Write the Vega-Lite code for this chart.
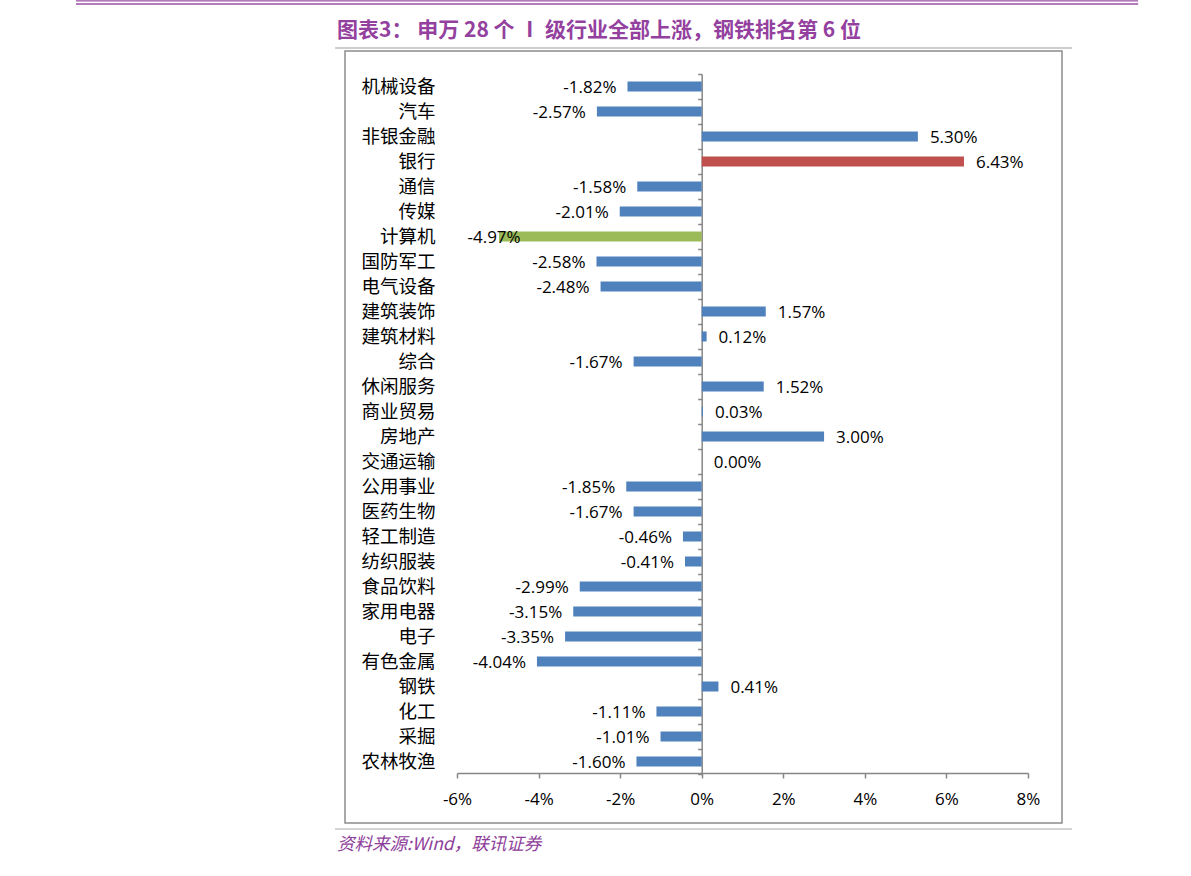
{
  "$schema": "https://vega.github.io/schema/vega-lite/v6.json",
  "autosize": "none",
  "width": 717,
  "height": 772,
  "padding": {"left": 345, "top": 51, "right": 129, "bottom": 53},
  "background": "white",
  "config": {
    "view": {"stroke": "#8C8C8C", "strokeWidth": 1.5},
    "axis": {"grid": false}
  },
  "datasets": {
    "industries": [
      {"industry": "机械设备", "value": -1.82},
      {"industry": "汽车", "value": -2.57},
      {"industry": "非银金融", "value": 5.30},
      {"industry": "银行", "value": 6.43},
      {"industry": "通信", "value": -1.58},
      {"industry": "传媒", "value": -2.01},
      {"industry": "计算机", "value": -4.97},
      {"industry": "国防军工", "value": -2.58},
      {"industry": "电气设备", "value": -2.48},
      {"industry": "建筑装饰", "value": 1.57},
      {"industry": "建筑材料", "value": 0.12},
      {"industry": "综合", "value": -1.67},
      {"industry": "休闲服务", "value": 1.52},
      {"industry": "商业贸易", "value": 0.03},
      {"industry": "房地产", "value": 3.00},
      {"industry": "交通运输", "value": 0.00},
      {"industry": "公用事业", "value": -1.85},
      {"industry": "医药生物", "value": -1.67},
      {"industry": "轻工制造", "value": -0.46},
      {"industry": "纺织服装", "value": -0.41},
      {"industry": "食品饮料", "value": -2.99},
      {"industry": "家用电器", "value": -3.15},
      {"industry": "电子", "value": -3.35},
      {"industry": "有色金属", "value": -4.04},
      {"industry": "钢铁", "value": 0.41},
      {"industry": "化工", "value": -1.11},
      {"industry": "采掘", "value": -1.01},
      {"industry": "农林牧渔", "value": -1.60}
    ]
  },
  "resolve": {"scale": {"y": "independent"}, "axis": {"y": "independent"}},
  "layer": [
    {
      "data": {"name": "industries"},
      "transform": [
        {"calculate": "(datum.value < 0 ? '-' : '') + format(abs(datum.value), '.2f') + '%'", "as": "label"},
        {"calculate": "max(datum.value, -4.17)", "as": "labelAt"}
      ],
      "encoding": {
        "y": {
          "field": "industry",
          "type": "nominal",
          "sort": null,
          "scale": {"range": [23, 723], "paddingInner": 0, "paddingOuter": 0},
          "axis": {
            "orient": "left",
            "offset": -92,
            "title": null,
            "domain": false,
            "ticks": false,
            "tickSize": 0,
            "labelPadding": 2,
            "labelFont": "Noto Sans CJK SC",
            "labelFontSize": 18.5,
            "labelColor": "#000000"
          }
        }
      },
      "layer": [
        {
          "mark": {"type": "bar", "height": {"band": 0.4}},
          "encoding": {
            "x": {
              "field": "value",
              "type": "quantitative",
              "scale": {"domain": [-6, 8], "range": [112, 683], "nice": false, "zero": false},
              "axis": {
                "orient": "bottom",
                "offset": -50,
                "title": null,
                "values": [-6, -4, -2, 0, 2, 4, 6, 8],
                "labelExpr": "datum.value + '%'",
                "labelFlush": false,
                "labelOverlap": false,
                "domainColor": "#868686",
                "domainWidth": 1.5,
                "tickColor": "#868686",
                "tickWidth": 1.5,
                "tickSize": 5,
                "labelPadding": 13,
                "labelFont": "Open Sans",
                "labelFontSize": 17,
                "labelColor": "#000000"
              }
            },
            "x2": {"datum": 0},
            "color": {
              "condition": [
                {"test": "datum.industry === '银行'", "value": "#C0504D"},
                {"test": "datum.industry === '计算机'", "value": "#9BBB59"}
              ],
              "value": "#4F81BD"
            }
          }
        },
        {
          "transform": [{"filter": "datum.value >= 0"}],
          "mark": {"type": "text", "align": "left", "baseline": "middle", "dx": 12, "dy": 1, "font": "Open Sans", "fontSize": 17, "color": "#000000"},
          "encoding": {
            "x": {"field": "labelAt", "type": "quantitative", "scale": {"domain": [-6, 8], "range": [112, 683], "nice": false, "zero": false}},
            "text": {"field": "label"}
          }
        },
        {
          "transform": [{"filter": "datum.value < 0"}],
          "mark": {"type": "text", "align": "right", "baseline": "middle", "dx": -11, "dy": 1, "font": "Open Sans", "fontSize": 17, "color": "#000000"},
          "encoding": {
            "x": {"field": "labelAt", "type": "quantitative", "scale": {"domain": [-6, 8], "range": [112, 683], "nice": false, "zero": false}},
            "text": {"field": "label"}
          }
        }
      ]
    },
    {
      "data": {"name": "industries"},
      "mark": {"type": "point", "opacity": 0},
      "encoding": {
        "x": {"datum": 0, "scale": {"domain": [-6, 8], "range": [112, 683], "nice": false, "zero": false}},
        "y": {
          "field": "industry",
          "type": "nominal",
          "sort": null,
          "scale": {"range": [23, 723], "paddingInner": 0, "paddingOuter": 0},
          "axis": {
            "orient": "left",
            "offset": -356.7,
            "title": null,
            "labels": false,
            "domainColor": "#868686",
            "domainWidth": 1.5,
            "tickColor": "#868686",
            "tickWidth": 1.5,
            "tickSize": 4,
            "tickBand": "extent"
          }
        }
      }
    },
    {
      "data": {"values": [{}]},
      "encoding": {
        "y": {"datum": 1.0648, "type": "quantitative", "scale": {"domain": [0, 1], "nice": false, "zero": false}, "axis": null}
      },
      "layer": [
        {
          "mark": {"type": "rule", "color": "#9B4FA6", "strokeWidth": 1.3},
          "encoding": {
            "x": {"datum": -15.34, "scale": {"domain": [-6, 8], "range": [112, 683], "nice": false, "zero": false}},
            "x2": {"datum": 10.70}
          }
        },
        {
          "mark": {"type": "rule", "color": "#9B4FA6", "strokeWidth": 1.3},
          "encoding": {
            "x": {"datum": -15.34, "scale": {"domain": [-6, 8], "range": [112, 683], "nice": false, "zero": false}},
            "x2": {"datum": 10.70},
            "y": {"datum": 1.0609, "type": "quantitative", "scale": {"domain": [0, 1], "nice": false, "zero": false}, "axis": null}
          }
        },
        {
          "mark": {"type": "rule", "color": "#CDCDCD", "strokeWidth": 2},
          "encoding": {
            "x": {"datum": -8.99, "scale": {"domain": [-6, 8], "range": [112, 683], "nice": false, "zero": false}},
            "x2": {"datum": 9.08},
            "y": {"datum": 1.0039, "type": "quantitative", "scale": {"domain": [0, 1], "nice": false, "zero": false}, "axis": null}
          }
        },
        {
          "mark": {"type": "rule", "color": "#D4D4D4", "strokeWidth": 2},
          "encoding": {
            "x": {"datum": -8.99, "scale": {"domain": [-6, 8], "range": [112, 683], "nice": false, "zero": false}},
            "x2": {"datum": 9.08},
            "y": {"datum": -0.0078, "type": "quantitative", "scale": {"domain": [0, 1], "nice": false, "zero": false}, "axis": null}
          }
        },
        {
          "mark": {"type": "text", "align": "left", "baseline": "middle", "font": "Noto Sans CJK SC", "fontSize": 21, "fontWeight": "bold", "color": "#93409E", "text": "图表3：   申万 28 个 Ⅰ 级行业全部上涨，钢铁排名第 6 位"},
          "encoding": {
            "x": {"datum": -8.94, "scale": {"domain": [-6, 8], "range": [112, 683], "nice": false, "zero": false}},
            "y": {"datum": 1.0259, "type": "quantitative", "scale": {"domain": [0, 1], "nice": false, "zero": false}, "axis": null}
          }
        },
        {
          "mark": {"type": "text", "align": "left", "baseline": "middle", "font": "Noto Sans CJK SC", "fontSize": 17.5, "fontStyle": "italic", "color": "#8E3E9A", "text": "资料来源:Wind，联讯证券"},
          "encoding": {
            "x": {"datum": -8.94, "scale": {"domain": [-6, 8], "range": [112, 683], "nice": false, "zero": false}},
            "y": {"datum": -0.0285, "type": "quantitative", "scale": {"domain": [0, 1], "nice": false, "zero": false}, "axis": null}
          }
        }
      ]
    }
  ]
}
